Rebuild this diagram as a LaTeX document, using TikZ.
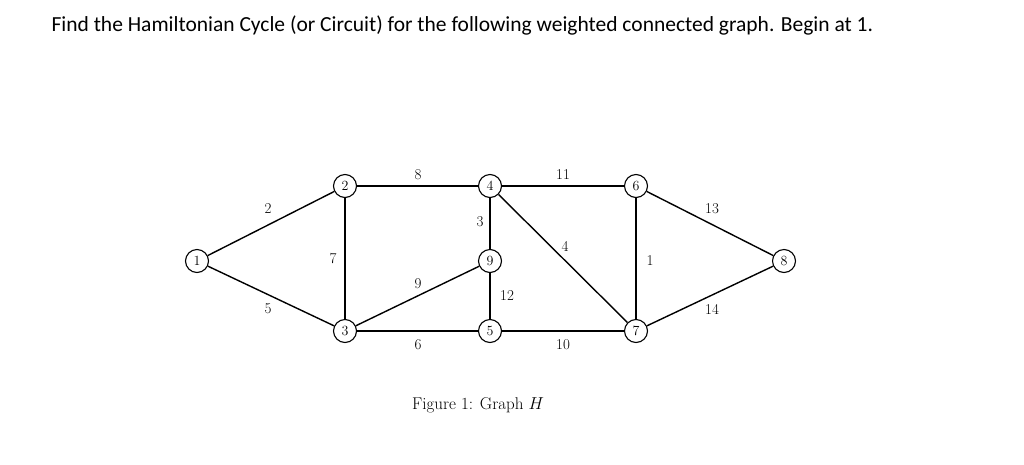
\documentclass[tikz,border=0pt]{standalone}
\usepackage{fontspec}
\newfontfamily\carl{Carlito}
\begin{document}
\begin{tikzpicture}[x=1pt,y=-1pt,
  vtx/.style={circle,draw,line width=1.1pt,minimum size=23pt,inner sep=0pt,font=\fontsize{14}{15}\selectfont},
  edge/.style={line width=1.4pt},
  lab/.style={font=\fontsize{15}{16}\selectfont,inner sep=1pt}]
\useasboundingbox (0,0) rectangle (1024,464);
\node[anchor=west,font=\carl\fontsize{21.5}{23}\selectfont] (title) at (48,25) {Find the Hamiltonian Cycle (or Circuit) for the following weighted connected graph. Begin at 1.};
\node[vtx] (n1) at (197,261) {1};
\node[vtx] (n2) at (345,186) {2};
\node[vtx] (n3) at (345,331) {3};
\node[vtx] (n4) at (490,186) {4};
\node[vtx] (n9) at (490,261) {9};
\node[vtx] (n5) at (490,331) {5};
\node[vtx] (n6) at (636,186) {6};
\node[vtx] (n7) at (636,331) {7};
\node[vtx] (n8) at (784,261) {8};
\draw[edge] (n1)--(n2); \draw[edge] (n1)--(n3);
\draw[edge] (n2)--(n4); \draw[edge] (n2)--(n3);
\draw[edge] (n4)--(n9); \draw[edge] (n9)--(n3);
\draw[edge] (n9)--(n5); \draw[edge] (n3)--(n5);
\draw[edge] (n4)--(n6); \draw[edge] (n4)--(n7);
\draw[edge] (n5)--(n7); \draw[edge] (n6)--(n7);
\draw[edge] (n6)--(n8); \draw[edge] (n7)--(n8);
\node[lab] (l12) at (268,209) {2};
\node[lab] (l13) at (268,309) {5};
\node[lab] (l24) at (418,175) {8};
\node[lab] (l23) at (333,259) {7};
\node[lab] (l49) at (480,222) {3};
\node[lab] (l39) at (418,284) {9};
\node[lab] (l95) at (507,296) {12};
\node[lab] (l35) at (418,345) {6};
\node[lab] (l46) at (563,175) {11};
\node[lab] (l47) at (565,246) {4};
\node[lab] (l57) at (563,345) {10};
\node[lab] (l67) at (650,261) {1};
\node[lab] (l68) at (712,209) {13};
\node[lab] (l78) at (712,309) {14};
\node[font=\fontsize{17}{18}\selectfont] (cap) at (478,405) {Figure 1: Graph $H$};
\end{tikzpicture}
\end{document}
